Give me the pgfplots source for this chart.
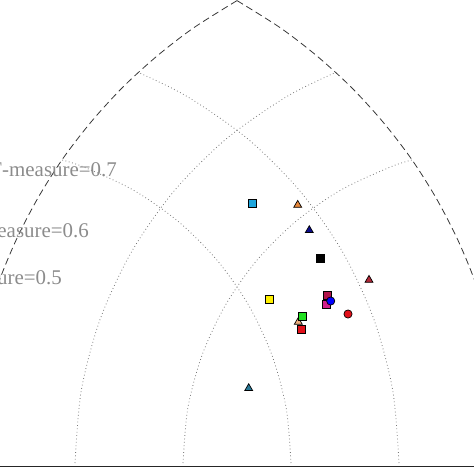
\documentclass[border=0pt]{standalone}
\usepackage{fontspec}
\setmainfont{Liberation Serif}
\usepackage{pgfplots}
\pgfplotsset{compat=1.18}

\definecolor{gridgray}{RGB}{120,120,120}
\definecolor{labgray}{RGB}{140,140,140}
\definecolor{arcgray}{RGB}{55,55,55}
\definecolor{mcyan}{RGB}{30,165,220}
\definecolor{morange}{RGB}{232,136,58}
\definecolor{mnavy}{RGB}{12,12,140}
\definecolor{mdred}{RGB}{178,40,55}
\definecolor{myellow}{RGB}{255,240,0}
\definecolor{mcrimson}{RGB}{176,20,74}
\definecolor{mblue}{RGB}{0,0,255}
\definecolor{mmagenta}{RGB}{208,30,138}
\definecolor{mred}{RGB}{226,16,26}
\definecolor{mgreen}{RGB}{32,224,32}
\definecolor{mpeach}{RGB}{240,176,128}
\definecolor{mteal}{RGB}{40,120,150}

\pgfplotsset{
  dotarc/.style={gridgray, line width=0.8pt, dash pattern=on 0.8pt off 2.6pt, smooth, no marks},
  dasharc/.style={arcgray, line width=0.8pt, dash pattern=on 7pt off 4pt, smooth, no marks},
  pt/.style n args={3}{only marks, mark=#1, mark size=#3,
    mark options={solid, fill=#2, draw=black, line width=0.7pt}},
}

\begin{document}
\begin{tikzpicture}
\clip (0,0) rectangle (474bp,474bp);
\begin{axis}[
  scale only axis, width=474bp, height=474bp,
  xmin=0, xmax=474, ymin=0, ymax=474, y dir=reverse,
  hide axis, clip=true,
  anchor=south west, at={(0,0)},
]
% outer dashed arcs
\addplot[dasharc] coordinates {(237,0.6) (193.4,28.0) (156.7,56.3) (122.5,87.5) (91.3,121.7)
  (63.0,158.4) (38.2,197.5) (16.8,238.6) (-1.0,281.4) (-14.9,325.6)};
\addplot[dasharc] coordinates {(237,0.6) (280.6,28.0) (317.3,56.3) (351.5,87.5) (382.7,121.7)
  (411.0,158.4) (435.8,197.5) (457.2,238.6) (475.0,281.4) (488.9,325.6)};

% dotted arcs
\addplot[dotarc] coordinates {(183,463) (187.8,408.3) (202.0,355.3) (225.2,305.5) (256.7,260.5)
  (295.5,221.7) (340.5,190.2) (390.3,167.0) (412.2,159.9)};
\addplot[dotarc] coordinates {(75,463) (81.4,389.6) (100.5,318.3) (131.7,251.5) (174.0,191.1)
  (226.1,139.0) (286.5,96.7) (335.7,72.4)};
\addplot[dotarc] coordinates {(291,463) (286.2,408.3) (272.0,355.3) (248.8,305.5) (217.3,260.5)
  (178.5,221.7) (133.5,190.2) (83.7,167.0) (61.8,159.9)};
\addplot[dotarc] coordinates {(399,463) (392.6,389.6) (373.5,318.3) (342.3,251.5) (300.0,191.1)
  (247.9,139.0) (187.5,96.7) (138.3,72.4)};

% baseline
\addplot[black!85, line width=1.6pt, no marks] coordinates {(0,466.5) (474,466.5)};

% labels
\node[anchor=base east, text=labgray, font=\fontsize{21}{25}\selectfont, inner sep=0pt]
  at (axis cs:117,176) {F-measure=0.7};
\node[anchor=base east, text=labgray, font=\fontsize{21}{25}\selectfont, inner sep=0pt]
  at (axis cs:89,237) {F-measure=0.6};
\node[anchor=base east, text=labgray, font=\fontsize{21}{25}\selectfont, inner sep=0pt]
  at (axis cs:62,284) {F-measure=0.5};

% methods
\addplot[pt={square*}{mcyan}{3.9}] coordinates {(252.3,203.3)};
\addplot[pt={triangle*}{morange}{4.6}] coordinates {(297.7,205.0)};
\addplot[pt={triangle*}{mnavy}{4.6}] coordinates {(309.3,230.3)};
\addplot[pt={square*}{black}{3.9}] coordinates {(320.7,258.3)};
\addplot[pt={triangle*}{mdred}{4.6}] coordinates {(369.0,280.0)};
\addplot[pt={square*}{myellow}{3.9}] coordinates {(269.3,299.0)};
\addplot[pt={square*}{mcrimson}{3.9}] coordinates {(327.7,295.7)};
\addplot[pt={square*}{mmagenta}{3.9}] coordinates {(326.3,304.7)};
\addplot[pt={*}{mblue}{4.1}] coordinates {(330.7,301.0)};
\addplot[pt={*}{mred}{4.1}] coordinates {(348.0,314.0)};
\addplot[pt={triangle*}{mpeach}{4.6}] coordinates {(298.3,322.0)};
\addplot[pt={square*}{mgreen}{3.9}] coordinates {(302.7,316.7)};
\addplot[pt={square*}{mred}{3.9}] coordinates {(301.3,329.0)};
\addplot[pt={triangle*}{mteal}{4.6}] coordinates {(248.7,388.3)};
\end{axis}
\end{tikzpicture}
\end{document}
